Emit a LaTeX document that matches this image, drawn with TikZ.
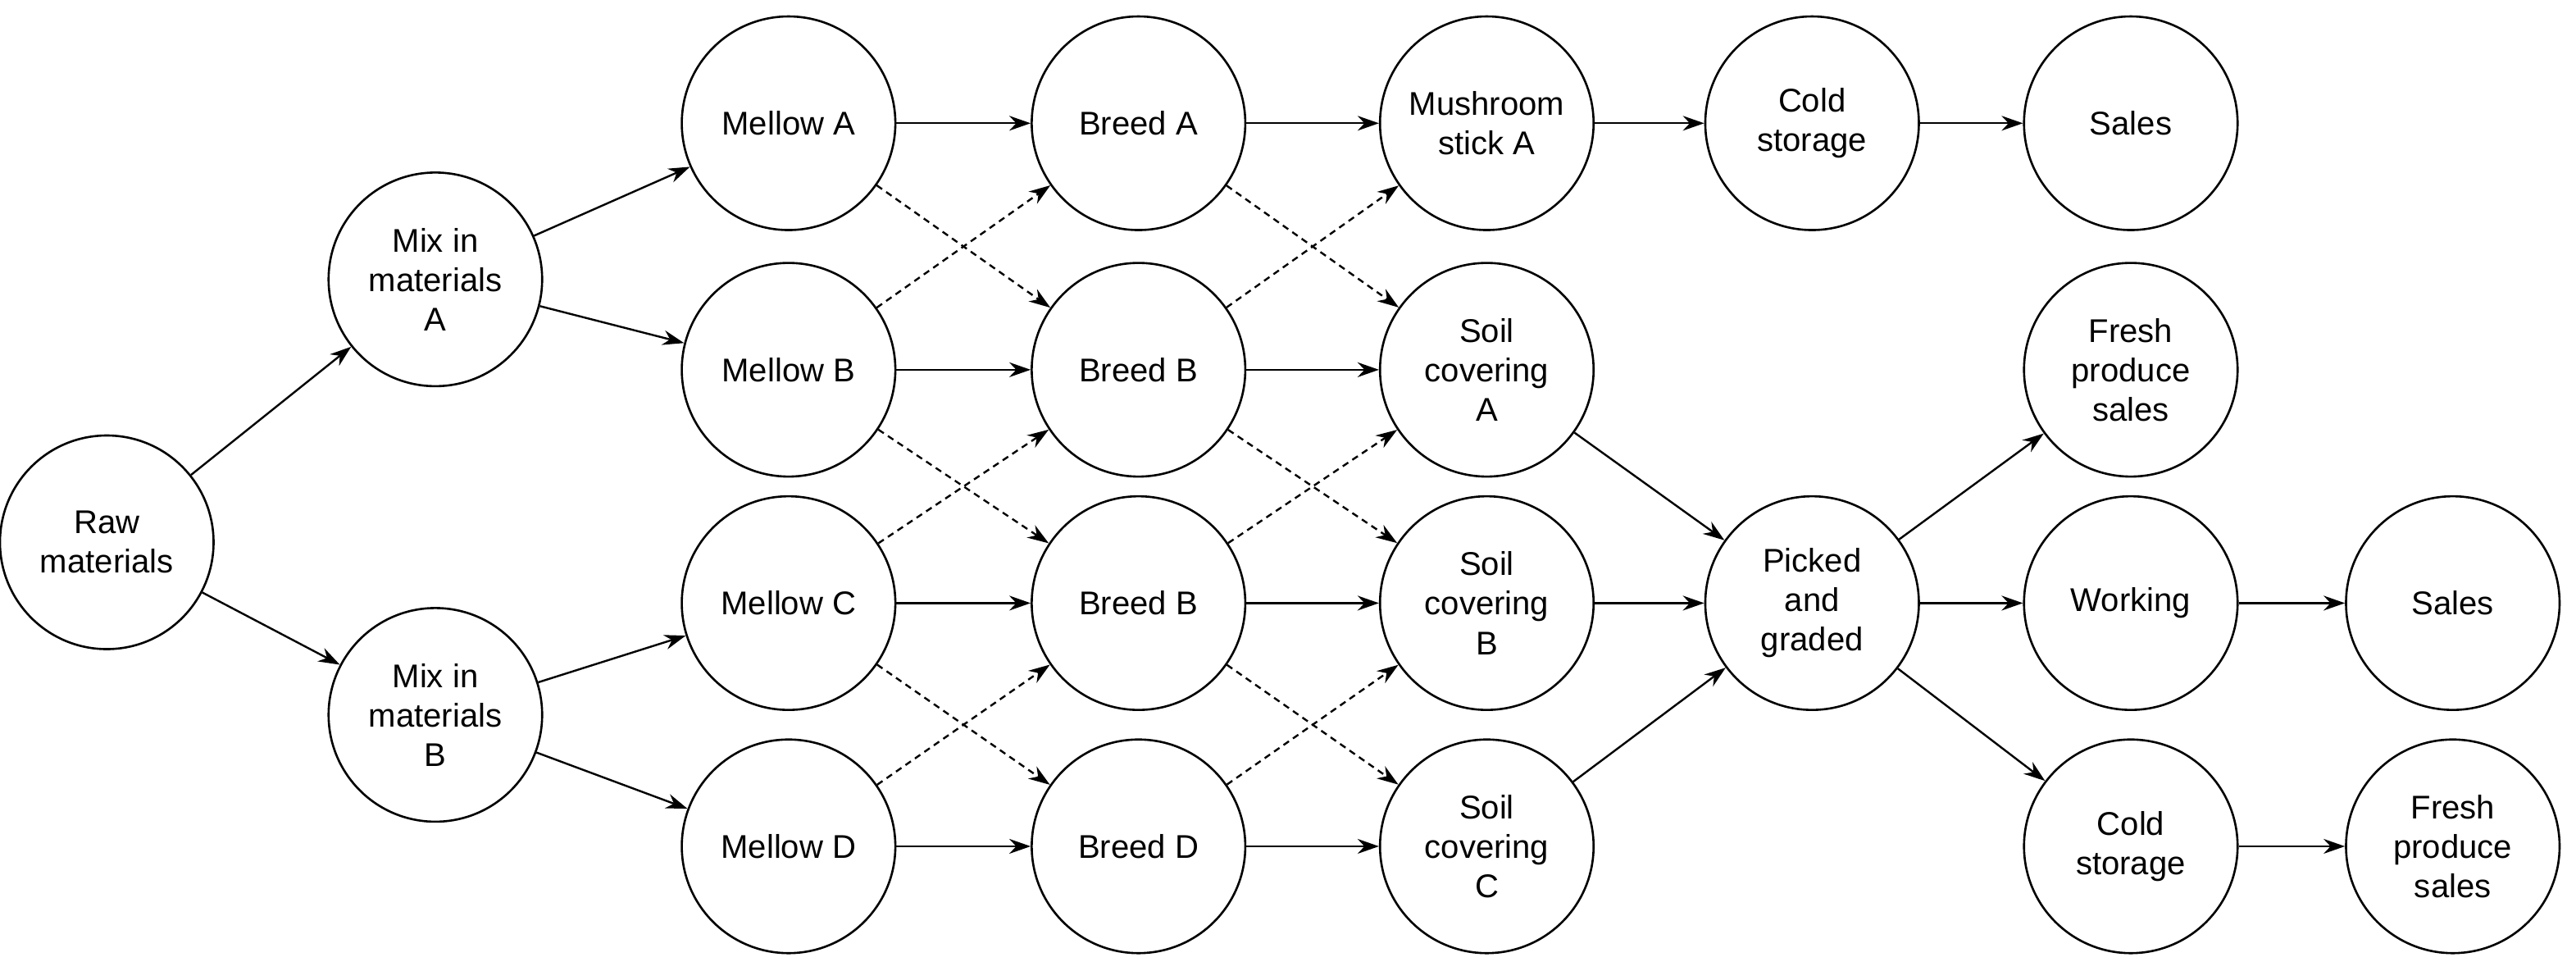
\documentclass[tikz,border=0pt]{standalone}
\usepackage{fontspec}
\setmainfont{Liberation Sans}
\usetikzlibrary{arrows.meta}
\begin{document}
\begin{tikzpicture}[x=1pt,y=-1pt,
  c/.style={circle,draw,line width=1.3pt,minimum size=130pt,inner sep=0pt,align=center,font=\fontsize{20}{24}\selectfont},
  a/.style={line width=1.2pt,-{Stealth[length=13pt,width=9pt]}},
  d/.style={a,dashed,dash pattern=on 4pt off 3pt}]
\useasboundingbox (0,0) rectangle (1568,590.4);
\node[c] (raw) at (65,330) {Raw\\materials};
\node[c] (mxa) at (265,170) {Mix in\\materials\\A};
\node[c] (mxb) at (265,435) {Mix in\\materials\\B};
\node[c] (ma) at (480,75) {Mellow A};
\node[c] (mb) at (480,225) {Mellow B};
\node[c] (mc) at (480,367) {Mellow C};
\node[c] (md) at (480,515) {Mellow D};
\node[c] (ba) at (693,75) {Breed A};
\node[c] (bb) at (693,225) {Breed B};
\node[c] (bc) at (693,367) {Breed B};
\node[c] (bd) at (693,515) {Breed D};
\node[c] (sa) at (905,75) {Mushroom\\stick A};
\node[c] (soa) at (905,225) {Soil\\covering\\A};
\node[c] (sob) at (905,367) {Soil\\covering\\B};
\node[c] (soc) at (905,515) {Soil\\covering\\C};
\node[c] (cs1) at (1103,75) {Cold\\storage};
\node[c] (s1) at (1297,75) {Sales};
\node[c] (pk) at (1103,367) {Picked\\and\\graded};
\node[c] (fr1) at (1297,225) {Fresh\\produce\\sales};
\node[c] (wk) at (1297,367) {Working};
\node[c] (s2) at (1493,367) {Sales};
\node[c] (cs2) at (1297,515) {Cold\\storage};
\node[c] (fr2) at (1493,515) {Fresh\\produce\\sales};
\draw[a] (raw)--(mxa); \draw[a] (raw)--(mxb);
\draw[a] (mxa)--(ma); \draw[a] (mxa)--(mb);
\draw[a] (mxb)--(mc); \draw[a] (mxb)--(md);
\foreach \p/\q in {ma/ba,mb/bb,mc/bc,md/bd,ba/sa,bb/soa,bc/sob,bd/soc,sa/cs1,cs1/s1,sob/pk,soa/pk,soc/pk,pk/fr1,pk/wk,pk/cs2,wk/s2,cs2/fr2}
  \draw[a] (\p)--(\q);
\foreach \p/\q in {ma/bb,mb/ba,mb/bc,mc/bb,mc/bd,md/bc,ba/soa,bb/sa,bb/sob,bc/soa,bc/soc,bd/sob}
  \draw[d] (\p)--(\q);
\end{tikzpicture}
\end{document}
